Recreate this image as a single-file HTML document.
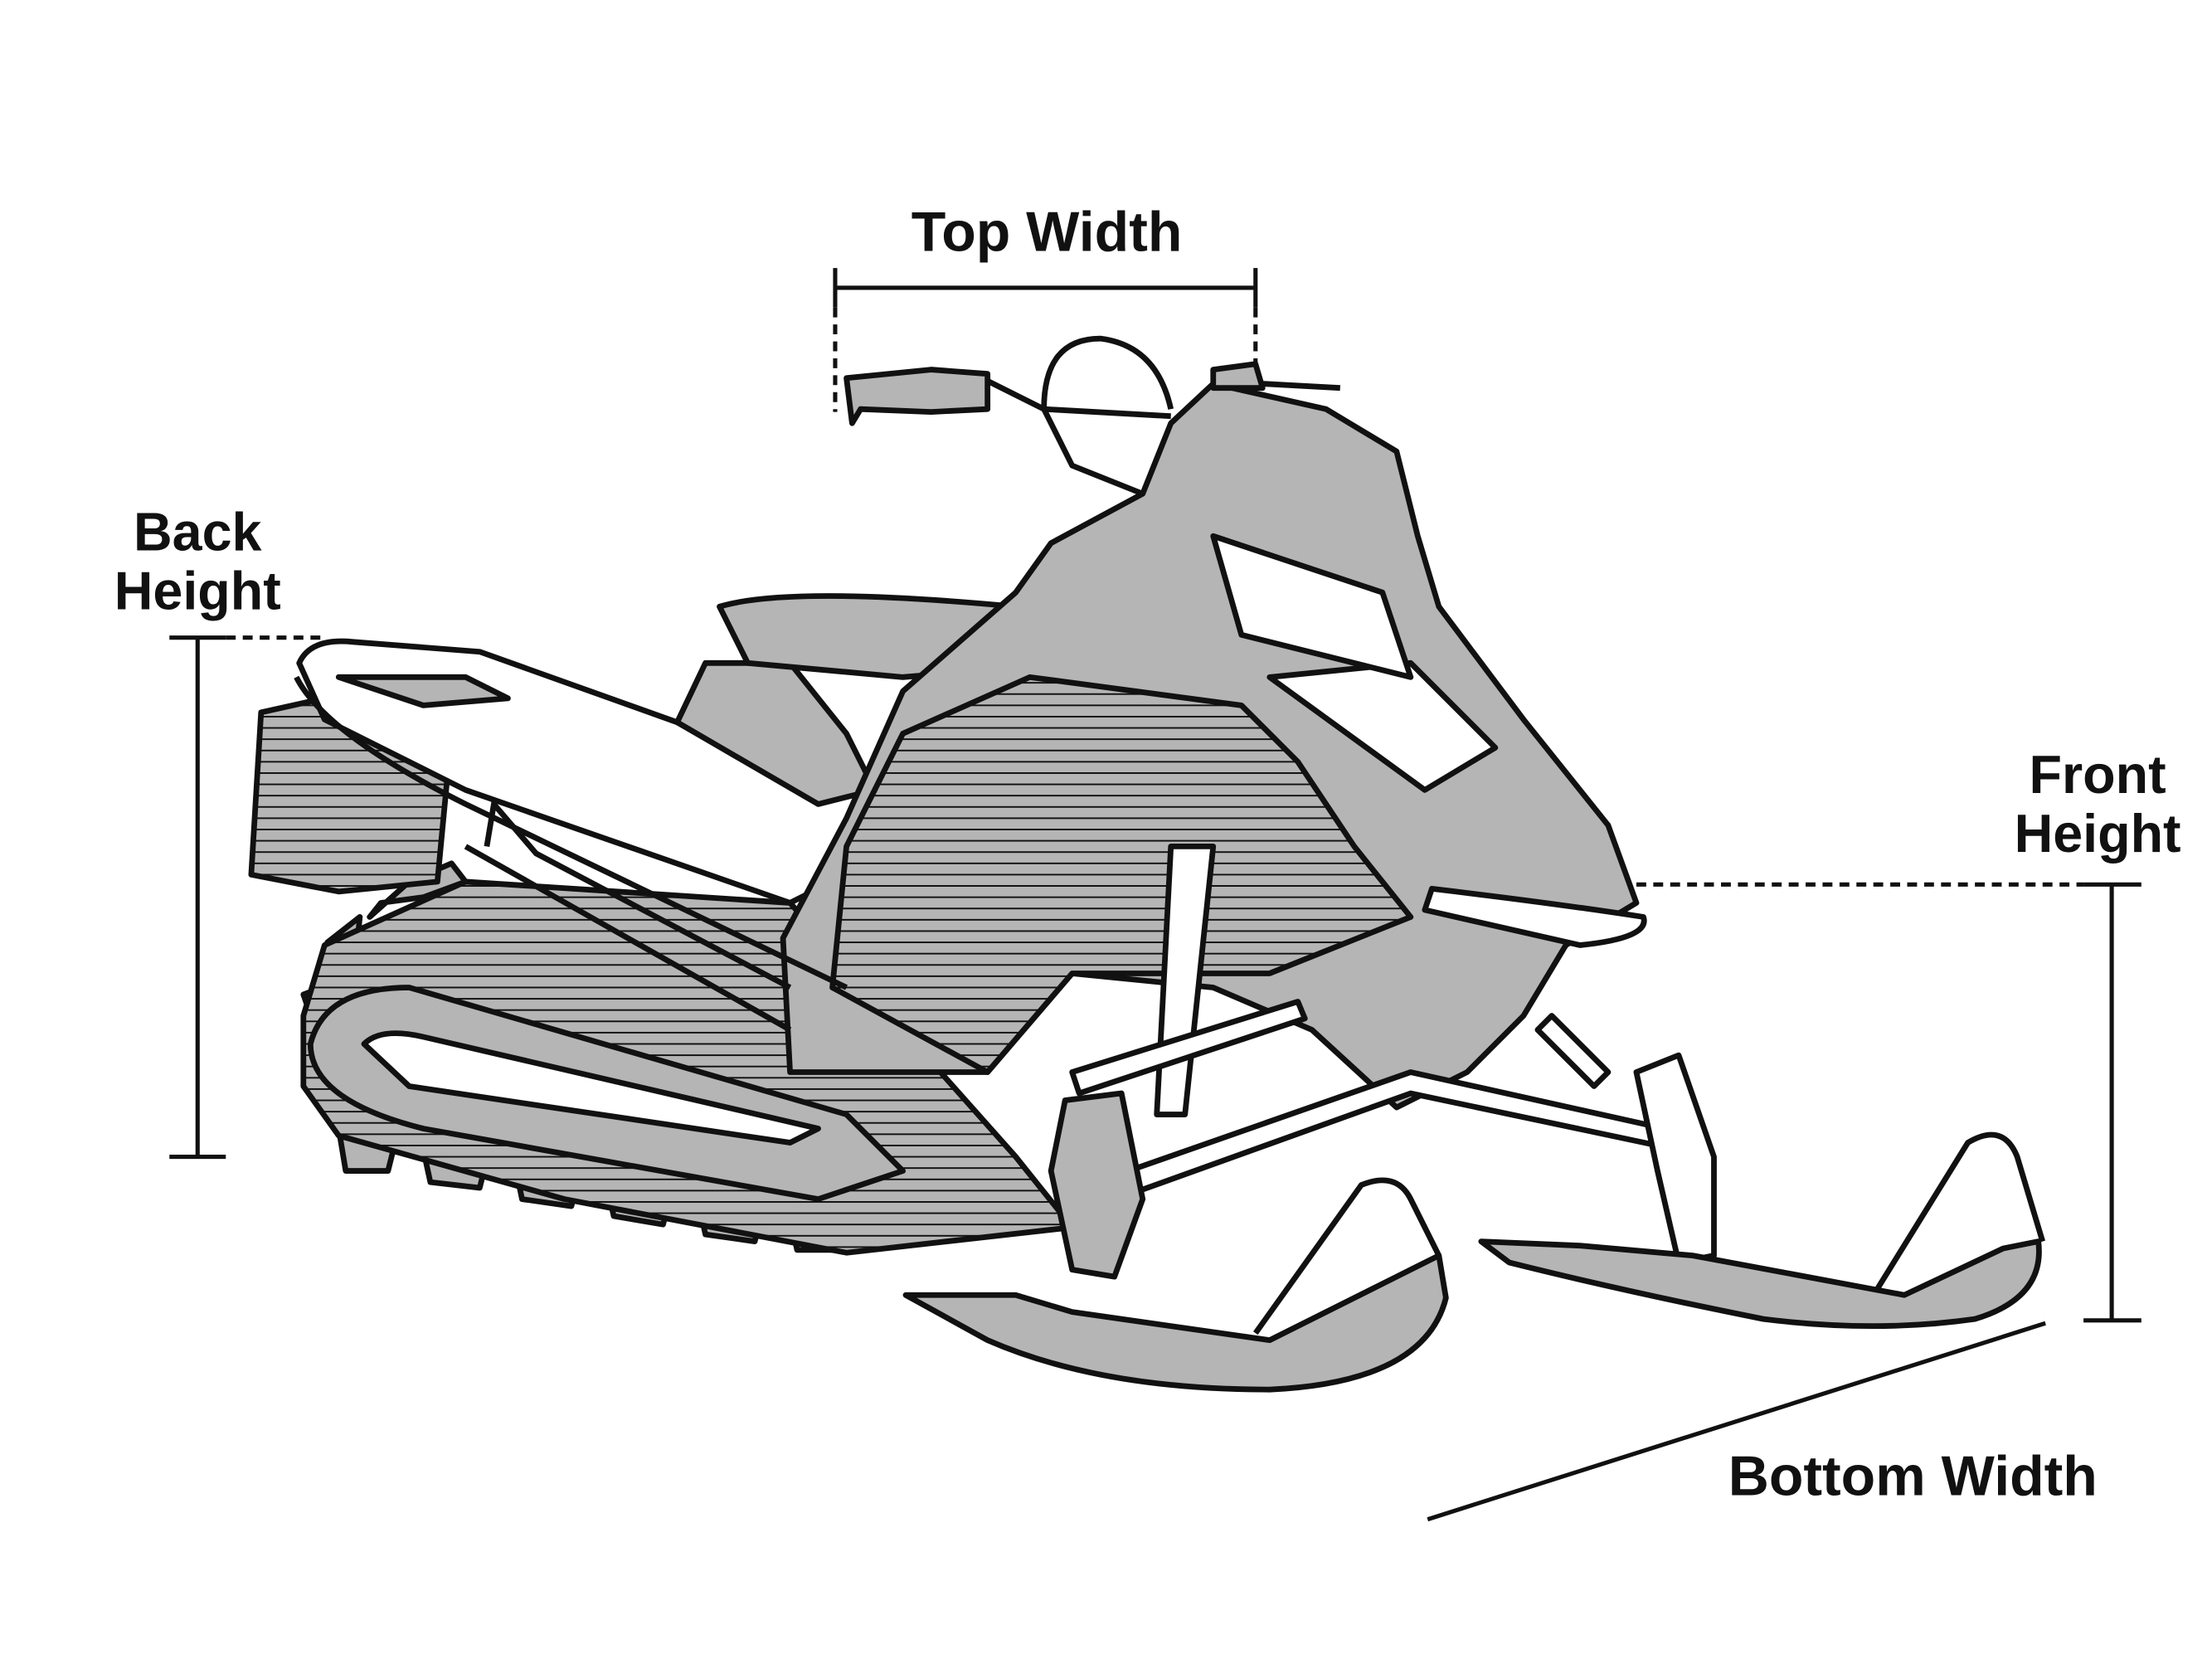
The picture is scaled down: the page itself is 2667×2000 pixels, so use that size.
<!DOCTYPE html>
<html><head><meta charset="utf-8"><style>
html,body{margin:0;padding:0;background:#fff;}
svg{display:block}
text{font-family:"Liberation Sans",sans-serif;font-weight:bold;fill:#111}
</style></head><body>
<svg width="2667" height="2000" viewBox="0 0 1568 1176" xmlns="http://www.w3.org/2000/svg">
<defs>
<pattern id="h" width="10" height="8" patternUnits="userSpaceOnUse"><rect width="10" height="8" fill="#b5b5b5"/><line x1="0" y1="4" x2="10" y2="4" stroke="#111" stroke-width="1.1"/></pattern>
</defs>
<g stroke="#111" stroke-width="3" fill="none">
<line x1="592" y1="204" x2="890" y2="204"/>
<line x1="592" y1="190" x2="592" y2="218"/><line x1="890" y1="190" x2="890" y2="218"/>
<line x1="592" y1="218" x2="592" y2="292" stroke-dasharray="7,5"/>
<line x1="890" y1="218" x2="890" y2="262" stroke-dasharray="7,5"/>
<line x1="140" y1="452" x2="140" y2="820"/>
<line x1="120" y1="452" x2="160" y2="452"/><line x1="120" y1="820" x2="160" y2="820"/>
<line x1="160" y1="452" x2="232" y2="452" stroke-dasharray="7,5"/>
<line x1="1497" y1="627" x2="1497" y2="936"/>
<line x1="1477" y1="627" x2="1518" y2="627"/><line x1="1477" y1="936" x2="1518" y2="936"/>
<line x1="1160" y1="627" x2="1477" y2="627" stroke-dasharray="7,5"/>
<line x1="1012" y1="1077" x2="1450" y2="938"/>
</g>
<text x="742" y="178" font-size="40" text-anchor="middle">Top Width</text>
<text x="140" y="390" font-size="38" text-anchor="middle">Back</text>
<text x="140" y="432" font-size="38" text-anchor="middle">Height</text>
<text x="1487" y="562" font-size="38" text-anchor="middle">Front</text>
<text x="1487" y="604" font-size="38" text-anchor="middle">Height</text>
<text x="1356" y="1060" font-size="40" text-anchor="middle">Bottom Width</text>

<g stroke="#111" stroke-width="4" stroke-linejoin="round" fill="#b5b5b5">
<!-- track teeth -->
<path d="M240,800 L245,830 L275,830 L280,810 L300,815 L305,838 L340,842 L345,822 L365,826 L370,850 L405,855 L410,835 L430,840 L435,862 L470,868 L475,848 L495,852 L500,875 L535,880 L540,860 L560,864 L565,886 L610,886 L615,868 L640,866 L650,880 L700,875 L740,870 L700,820 Z"/>
<path d="M232,668 L228,700 L215,705 L222,725 L240,800 L255,650 Z"/>
<path d="M262,650 L270,640 L300,636 L330,625 L320,612 L290,625 Z"/>
<!-- track -->
<path d="M215,720 L230,670 L330,625 L560,640 L720,820 L760,870 L600,888 L400,850 L240,805 L215,770 Z" fill="url(#h)"/>
<path d="M220,740 Q230,700 290,700 L600,790 L640,830 L580,850 L300,800 Q220,780 220,740 Z"/>
<path d="M258,740 Q270,728 300,735 L580,800 L560,810 L290,770 Z" fill="#fff"/>
<path d="M185,505 L230,495 L320,520 L310,625 L240,632 L178,620 Z" fill="url(#h)"/>
<path d="M212,470 Q220,452 250,455 L340,462 L480,512 L620,560 L600,620 L560,640 L330,560 L230,510 Z" fill="#fff"/>
<path d="M240,480 L330,480 L360,495 L300,500 Z"/>
<path d="M480,512 L500,470 L560,470 L600,520 L620,560 L580,570 Z"/>
<path d="M510,430 Q560,415 720,430 L760,470 L640,480 L530,470 Z"/>
<!-- hood -->
<path d="M555,665 L600,580 L640,490 L720,420 L745,385 L810,350 L830,300 L860,272 L940,290 L990,320 L1005,380 L1020,430 L1080,510 L1140,585 L1160,640 L1110,670 L1080,720 L1040,760 L990,785 L930,730 L860,700 L760,690 L700,760 L560,760 Z"/>
<path d="M600,600 L640,520 L730,480 L880,500 L920,540 L960,600 L1000,650 L900,690 L760,690 L700,760 L590,700 Z" fill="url(#h)"/>
<path d="M900,480 L1000,470 L1060,530 L1010,560 Z" fill="#fff"/>
<path d="M860,380 L980,420 L1000,480 L880,450 Z" fill="#fff"/>
<path d="M1015,630 Q1100,640 1165,650 Q1170,665 1120,670 L1010,645 Z" fill="#fff"/>
<path d="M830,600 L860,600 L840,790 L820,790 Z" fill="#fff"/>
<path d="M760,760 L920,710 L925,722 L765,775 Z" fill="#fff"/>
<path d="M800,830 L1000,760 L1180,800 L1175,812 L1000,775 L805,845 Z" fill="#fff"/>
<path d="M1100,720 L1140,760 L1130,770 L1090,730 Z" fill="#fff"/>
<path d="M755,780 L795,775 L810,850 L790,905 L760,900 L745,830 Z"/>
<path d="M1160,760 L1190,748 L1215,820 L1215,890 L1190,895 L1175,830 Z" fill="#fff"/>
<path d="M642,918 L720,918 L760,930 L900,950 L990,905 L1020,890 L1025,920 Q1010,980 900,985 Q780,985 700,950 Z"/>
<path d="M890,945 L965,840 Q990,830 1000,850 L1020,890" fill="none"/>
<path d="M1050,880 L1120,883 L1200,890 L1350,918 L1420,885 L1445,880 Q1450,920 1400,935 Q1330,945 1250,935 Q1150,915 1070,895 Z"/>
<path d="M1330,915 L1395,810 Q1420,795 1430,820 L1448,880" fill="none"/>
<path d="M600,268 L660,262 L700,265 L700,290 L660,292 L610,290 L604,300 Z"/>
<path d="M700,270 L740,290 L760,330 L810,350" fill="none"/>
<path d="M740,290 Q740,240 780,240 Q820,245 830,290" fill="none"/>
<path d="M740,290 L830,295" fill="none"/>
<path d="M860,262 L890,258 L895,275 L860,275 Z"/>
<line x1="895" y1="272" x2="950" y2="275"/>
</g>
<g stroke="#111" stroke-width="4" fill="none">
<path d="M345,600 L350,570 L380,605 L560,700"/>
<path d="M330,600 L560,730"/>
<path d="M210,480 Q230,520 330,570 L600,700"/>
</g>
</svg>
</body></html>
